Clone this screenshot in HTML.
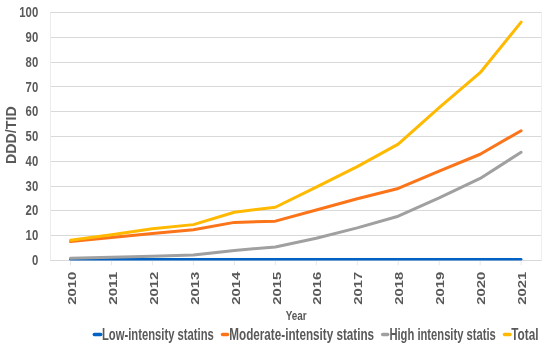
<!DOCTYPE html>
<html><head><meta charset="utf-8"><style>
html,body{margin:0;padding:0;background:#fff;}
svg{display:block;will-change:transform;}
text{font-family:"Liberation Sans",sans-serif;fill:#595959;}
.yl{font-size:15.4px;font-weight:bold;}
.xl{font-size:11.5px;font-weight:bold;}
.at{font-size:15px;font-weight:bold;}
.yt{font-size:13px;font-weight:bold;}
.lg{font-size:16px;font-weight:bold;}
</style></head><body>
<svg width="550" height="347" viewBox="0 0 550 347">
<rect width="550" height="347" fill="#fff"/>
<line x1="50.0" y1="12.50" x2="541.6" y2="12.50" stroke="#d9d9d9" stroke-width="1"/>
<line x1="50.0" y1="37.50" x2="541.6" y2="37.50" stroke="#d9d9d9" stroke-width="1"/>
<line x1="50.0" y1="62.50" x2="541.6" y2="62.50" stroke="#d9d9d9" stroke-width="1"/>
<line x1="50.0" y1="86.50" x2="541.6" y2="86.50" stroke="#d9d9d9" stroke-width="1"/>
<line x1="50.0" y1="111.50" x2="541.6" y2="111.50" stroke="#d9d9d9" stroke-width="1"/>
<line x1="50.0" y1="136.50" x2="541.6" y2="136.50" stroke="#d9d9d9" stroke-width="1"/>
<line x1="50.0" y1="161.50" x2="541.6" y2="161.50" stroke="#d9d9d9" stroke-width="1"/>
<line x1="50.0" y1="186.50" x2="541.6" y2="186.50" stroke="#d9d9d9" stroke-width="1"/>
<line x1="50.0" y1="210.50" x2="541.6" y2="210.50" stroke="#d9d9d9" stroke-width="1"/>
<line x1="50.0" y1="235.50" x2="541.6" y2="235.50" stroke="#d9d9d9" stroke-width="1"/>
<line x1="50.0" y1="260.50" x2="541.6" y2="260.50" stroke="#d9d9d9" stroke-width="1"/>
<line x1="50.5" y1="12.50" x2="50.5" y2="260.30" stroke="#ececec" stroke-width="1"/>
<line x1="541.6" y1="12.50" x2="541.6" y2="260.30" stroke="#eeeeee" stroke-width="1"/>
<line x1="70.48" y1="260.30" x2="70.48" y2="265.30" stroke="#e8e8e8" stroke-width="1"/>
<line x1="111.45" y1="260.30" x2="111.45" y2="265.30" stroke="#e8e8e8" stroke-width="1"/>
<line x1="152.42" y1="260.30" x2="152.42" y2="265.30" stroke="#e8e8e8" stroke-width="1"/>
<line x1="193.38" y1="260.30" x2="193.38" y2="265.30" stroke="#e8e8e8" stroke-width="1"/>
<line x1="234.35" y1="260.30" x2="234.35" y2="265.30" stroke="#e8e8e8" stroke-width="1"/>
<line x1="275.32" y1="260.30" x2="275.32" y2="265.30" stroke="#e8e8e8" stroke-width="1"/>
<line x1="316.28" y1="260.30" x2="316.28" y2="265.30" stroke="#e8e8e8" stroke-width="1"/>
<line x1="357.25" y1="260.30" x2="357.25" y2="265.30" stroke="#e8e8e8" stroke-width="1"/>
<line x1="398.22" y1="260.30" x2="398.22" y2="265.30" stroke="#e8e8e8" stroke-width="1"/>
<line x1="439.18" y1="260.30" x2="439.18" y2="265.30" stroke="#e8e8e8" stroke-width="1"/>
<line x1="480.15" y1="260.30" x2="480.15" y2="265.30" stroke="#e8e8e8" stroke-width="1"/>
<line x1="521.12" y1="260.30" x2="521.12" y2="265.30" stroke="#e8e8e8" stroke-width="1"/>
<text x="38.2" y="265.00" text-anchor="end" textLength="6.3" lengthAdjust="spacingAndGlyphs" class="yl">0</text>
<text x="38.2" y="240.22" text-anchor="end" textLength="12.6" lengthAdjust="spacingAndGlyphs" class="yl">10</text>
<text x="38.2" y="215.44" text-anchor="end" textLength="12.6" lengthAdjust="spacingAndGlyphs" class="yl">20</text>
<text x="38.2" y="190.66" text-anchor="end" textLength="12.6" lengthAdjust="spacingAndGlyphs" class="yl">30</text>
<text x="38.2" y="165.88" text-anchor="end" textLength="12.6" lengthAdjust="spacingAndGlyphs" class="yl">40</text>
<text x="38.2" y="141.10" text-anchor="end" textLength="12.6" lengthAdjust="spacingAndGlyphs" class="yl">50</text>
<text x="38.2" y="116.32" text-anchor="end" textLength="12.6" lengthAdjust="spacingAndGlyphs" class="yl">60</text>
<text x="38.2" y="91.54" text-anchor="end" textLength="12.6" lengthAdjust="spacingAndGlyphs" class="yl">70</text>
<text x="38.2" y="66.76" text-anchor="end" textLength="12.6" lengthAdjust="spacingAndGlyphs" class="yl">80</text>
<text x="38.2" y="41.98" text-anchor="end" textLength="12.6" lengthAdjust="spacingAndGlyphs" class="yl">90</text>
<text x="38.2" y="17.20" text-anchor="end" textLength="18.9" lengthAdjust="spacingAndGlyphs" class="yl">100</text>
<text transform="translate(75.68,271.8) rotate(-90)" x="0" y="0" text-anchor="end" textLength="33.0" lengthAdjust="spacingAndGlyphs" class="xl">2010</text>
<text transform="translate(116.65,271.8) rotate(-90)" x="0" y="0" text-anchor="end" textLength="33.0" lengthAdjust="spacingAndGlyphs" class="xl">2011</text>
<text transform="translate(157.62,271.8) rotate(-90)" x="0" y="0" text-anchor="end" textLength="33.0" lengthAdjust="spacingAndGlyphs" class="xl">2012</text>
<text transform="translate(198.58,271.8) rotate(-90)" x="0" y="0" text-anchor="end" textLength="33.0" lengthAdjust="spacingAndGlyphs" class="xl">2013</text>
<text transform="translate(239.55,271.8) rotate(-90)" x="0" y="0" text-anchor="end" textLength="33.0" lengthAdjust="spacingAndGlyphs" class="xl">2014</text>
<text transform="translate(280.52,271.8) rotate(-90)" x="0" y="0" text-anchor="end" textLength="33.0" lengthAdjust="spacingAndGlyphs" class="xl">2015</text>
<text transform="translate(321.48,271.8) rotate(-90)" x="0" y="0" text-anchor="end" textLength="33.0" lengthAdjust="spacingAndGlyphs" class="xl">2016</text>
<text transform="translate(362.45,271.8) rotate(-90)" x="0" y="0" text-anchor="end" textLength="33.0" lengthAdjust="spacingAndGlyphs" class="xl">2017</text>
<text transform="translate(403.42,271.8) rotate(-90)" x="0" y="0" text-anchor="end" textLength="33.0" lengthAdjust="spacingAndGlyphs" class="xl">2018</text>
<text transform="translate(444.38,271.8) rotate(-90)" x="0" y="0" text-anchor="end" textLength="33.0" lengthAdjust="spacingAndGlyphs" class="xl">2019</text>
<text transform="translate(485.35,271.8) rotate(-90)" x="0" y="0" text-anchor="end" textLength="33.0" lengthAdjust="spacingAndGlyphs" class="xl">2020</text>
<text transform="translate(526.32,271.8) rotate(-90)" x="0" y="0" text-anchor="end" textLength="33.0" lengthAdjust="spacingAndGlyphs" class="xl">2021</text>
<text transform="translate(16.3,163.9) rotate(-90)" x="0" y="0" textLength="57.6" lengthAdjust="spacingAndGlyphs" class="at">DDD/TID</text>
<text x="285.8" y="320.1" textLength="20.9" lengthAdjust="spacingAndGlyphs" class="yt">Year</text>
<polyline points="70.48,259.18 111.45,259.18 152.42,259.18 193.38,259.18 234.35,259.18 275.32,259.18 316.28,259.18 357.25,259.18 398.22,259.18 439.18,259.18 480.15,259.18 521.12,259.18" fill="none" stroke="#0062c4" stroke-width="2.6" stroke-linecap="round" stroke-linejoin="round"/>
<polyline points="70.48,241.59 111.45,237.50 152.42,233.54 193.38,229.82 234.35,222.39 275.32,221.15 316.28,210.00 357.25,198.72 398.22,188.44 439.18,171.09 480.15,154.24 521.12,130.70" fill="none" stroke="#fb7419" stroke-width="3.0" stroke-linecap="round" stroke-linejoin="round"/>
<polyline points="70.48,258.32 111.45,257.33 152.42,256.34 193.38,255.10 234.35,250.51 275.32,246.92 316.28,238.25 357.25,227.84 398.22,216.19 439.18,197.85 480.15,178.40 521.12,152.26" fill="none" stroke="#a0a0a0" stroke-width="3.0" stroke-linecap="round" stroke-linejoin="round"/>
<polyline points="70.48,240.23 111.45,234.78 152.42,228.83 193.38,224.62 234.35,212.23 275.32,207.27 316.28,187.20 357.25,166.63 398.22,144.08 439.18,107.66 480.15,72.72 521.12,22.16" fill="none" stroke="#ffb900" stroke-width="3.0" stroke-linecap="round" stroke-linejoin="round"/>
<line x1="94.3" y1="334.5" x2="100.7" y2="334.5" stroke="#0062c4" stroke-width="3.5" stroke-linecap="round"/>
<text x="102.0" y="339.6" textLength="111.8" lengthAdjust="spacingAndGlyphs" class="lg">Low-intensity statins</text>
<line x1="222.5" y1="334.5" x2="227.5" y2="334.5" stroke="#fb7419" stroke-width="3.5" stroke-linecap="round"/>
<text x="229.3" y="339.6" textLength="144.8" lengthAdjust="spacingAndGlyphs" class="lg">Moderate-intensity statins</text>
<line x1="382.7" y1="334.5" x2="387.7" y2="334.5" stroke="#a0a0a0" stroke-width="3.5" stroke-linecap="round"/>
<text x="389.4" y="339.6" textLength="106.4" lengthAdjust="spacingAndGlyphs" class="lg">High intensity statis</text>
<line x1="504.5" y1="334.5" x2="510.0" y2="334.5" stroke="#ffb900" stroke-width="3.5" stroke-linecap="round"/>
<text x="511.3" y="339.6" textLength="27.2" lengthAdjust="spacingAndGlyphs" class="lg">Total</text>
</svg>
</body></html>
